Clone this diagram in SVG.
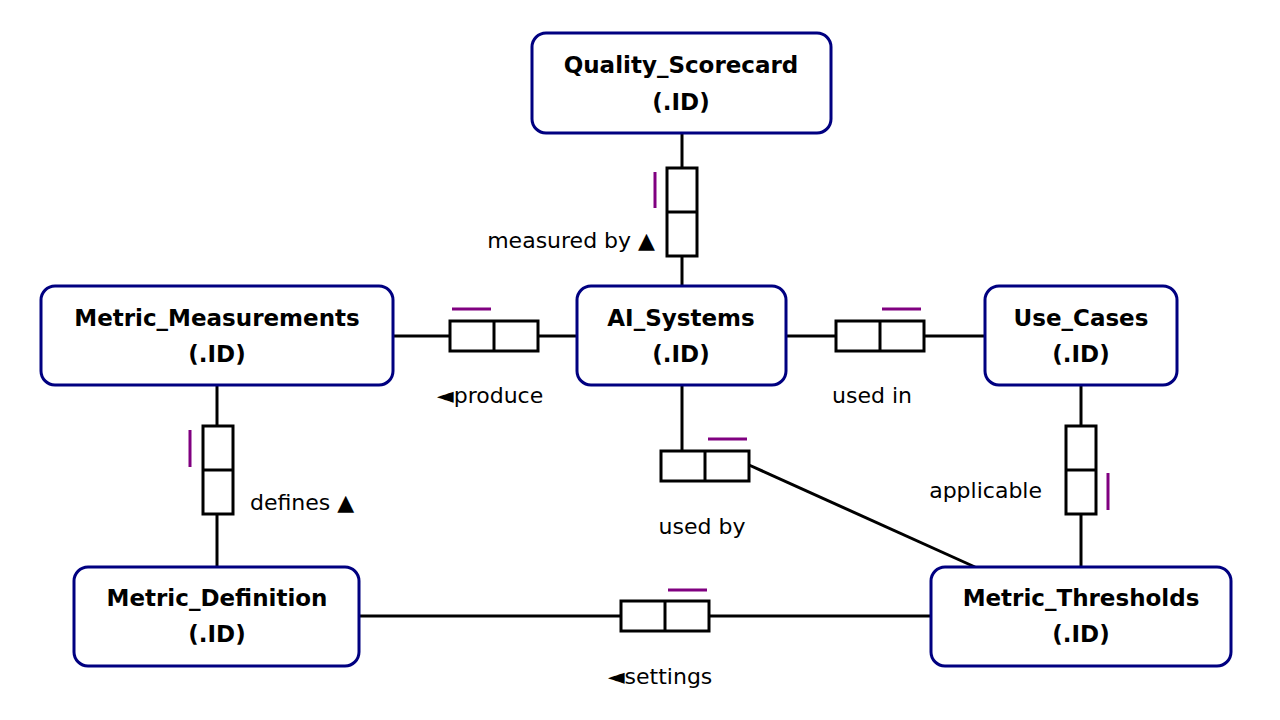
<svg xmlns="http://www.w3.org/2000/svg" width="1280" height="720" viewBox="0 0 1280 720">
<style>
.n{fill:#fff;stroke:#000080;stroke-width:3}
.t{font-family:"DejaVu Sans",sans-serif;font-weight:bold;font-size:23px;text-anchor:middle}
.l{font-family:"DejaVu Sans",sans-serif;font-size:22px}
.c{stroke:#000;stroke-width:3;fill:none}
.b{fill:#fff;stroke:#000;stroke-width:3}
.p{stroke:#800080;stroke-width:3}
</style>
<rect width="1280" height="720" fill="#fff"/>
<g id="connectors">
<line class="c" x1="682" y1="133" x2="682" y2="286"/>
<rect class="b" x="667" y="168" width="30" height="88"/><line class="c" x1="667" y1="212" x2="697" y2="212"/>
<line class="p" x1="655" y1="172" x2="655" y2="208"/>
<text class="l" x="655" y="248" text-anchor="end">measured by ▲</text>

<line class="c" x1="393" y1="336" x2="577" y2="336"/>
<rect class="b" x="450" y="321" width="88" height="30"/><line class="c" x1="494" y1="321" x2="494" y2="351"/>
<line class="p" x1="452" y1="309" x2="491" y2="309"/>
<text class="l" x="490" y="403" text-anchor="middle">◄produce</text>

<line class="c" x1="786" y1="336" x2="985" y2="336"/>
<rect class="b" x="836" y="321" width="88" height="30"/><line class="c" x1="880" y1="321" x2="880" y2="351"/>
<line class="p" x1="882" y1="309" x2="921" y2="309"/>
<text class="l" x="872" y="403" text-anchor="middle">used in</text>

<line class="c" x1="217" y1="385" x2="217" y2="567"/>
<rect class="b" x="203" y="426" width="30" height="88"/><line class="c" x1="203" y1="470" x2="233" y2="470"/>
<line class="p" x1="190" y1="430" x2="190" y2="467"/>
<text class="l" x="250" y="510">defines ▲</text>

<line class="c" x1="1081" y1="385" x2="1081" y2="567"/>
<rect class="b" x="1066" y="426" width="30" height="88"/><line class="c" x1="1066" y1="470" x2="1096" y2="470"/>
<line class="p" x1="1108" y1="473" x2="1108" y2="510"/>
<text class="l" x="1042" y="498" text-anchor="end">applicable</text>

<line class="c" x1="682" y1="385" x2="682" y2="451"/>
<line class="c" x1="749" y1="465" x2="975" y2="567"/>
<rect class="b" x="661" y="451" width="88" height="30"/><line class="c" x1="705" y1="451" x2="705" y2="481"/>
<line class="p" x1="708" y1="439" x2="747" y2="439"/>
<text class="l" x="702" y="534" text-anchor="middle">used by</text>

<line class="c" x1="359" y1="616" x2="931" y2="616"/>
<rect class="b" x="621" y="601" width="88" height="30"/><line class="c" x1="665" y1="601" x2="665" y2="631"/>
<line class="p" x1="668" y1="590" x2="707" y2="590"/>
<text class="l" x="660" y="684" text-anchor="middle">◄settings</text>
</g>
<g id="Quality_Scorecard"><rect class="n" x="532" y="33" width="299" height="100" rx="14"/><text class="t" x="681" y="73">Quality_Scorecard</text><text class="t" x="681" y="110">(.ID)</text></g>
<g id="AI_Systems"><rect class="n" x="577" y="286" width="209" height="99" rx="14"/><text class="t" x="681" y="326">AI_Systems</text><text class="t" x="681" y="362">(.ID)</text></g>
<g id="Metric_Measurements"><rect class="n" x="41" y="286" width="352" height="99" rx="14"/><text class="t" x="217" y="326">Metric_Measurements</text><text class="t" x="217" y="362">(.ID)</text></g>
<g id="Use_Cases"><rect class="n" x="985" y="286" width="192" height="99" rx="14"/><text class="t" x="1081" y="326">Use_Cases</text><text class="t" x="1081" y="362">(.ID)</text></g>
<g id="Metric_Definition"><rect class="n" x="74" y="567" width="285" height="99" rx="14"/><text class="t" x="217" y="606">Metric_Definition</text><text class="t" x="217" y="642">(.ID)</text></g>
<g id="Metric_Thresholds"><rect class="n" x="931" y="567" width="300" height="99" rx="14"/><text class="t" x="1081" y="606">Metric_Thresholds</text><text class="t" x="1081" y="642">(.ID)</text></g>
</svg>
